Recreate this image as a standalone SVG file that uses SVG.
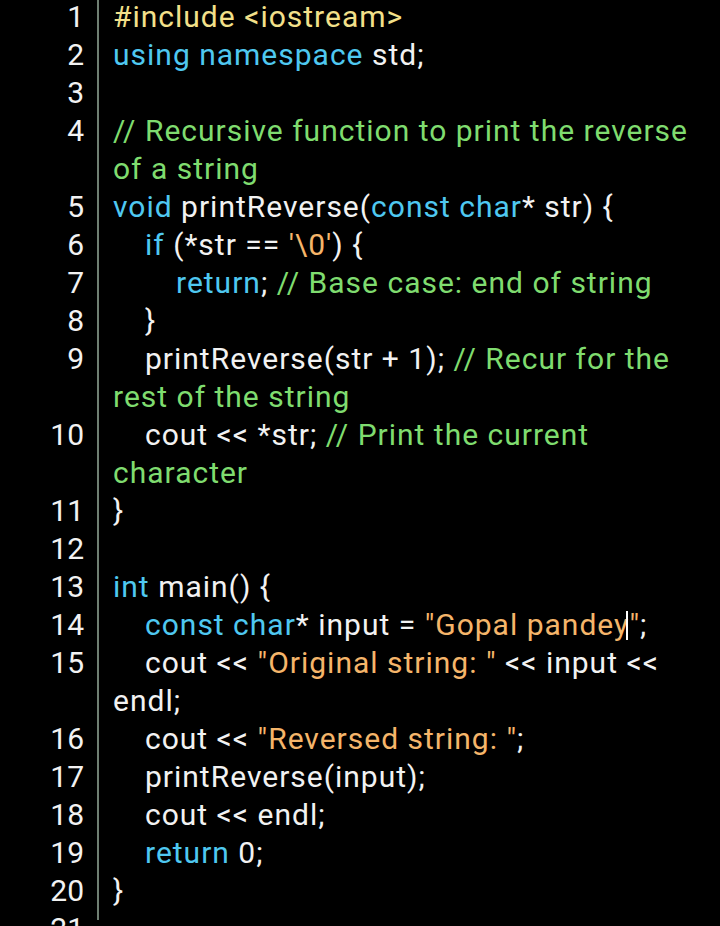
<svg xmlns="http://www.w3.org/2000/svg" width="720" height="926" viewBox="0 0 720 926">
<style>
text{font-family:Roboto,"Noto Sans",sans-serif;font-size:30px;letter-spacing:1px;fill:#f2f2f2;white-space:pre}
.n{text-anchor:end;letter-spacing:0}
.k{fill:#4fc8f0}.c{fill:#7fdc6f}.s{fill:#f5b56a}.p{fill:#f3e08a}
</style>
<rect width="720" height="926" fill="#000"/>
<line x1="98" y1="0" x2="98" y2="920" stroke="#6f7f72" stroke-width="2"/>
<g id="nums">
<text class="n" x="84" y="27">1</text><text class="n" x="84" y="65">2</text><text class="n" x="84" y="103">3</text><text class="n" x="84" y="141">4</text>
<text class="n" x="84" y="217">5</text><text class="n" x="84" y="255">6</text><text class="n" x="84" y="293">7</text><text class="n" x="84" y="331">8</text><text class="n" x="84" y="369">9</text>
<text class="n" x="84" y="445">10</text><text class="n" x="84" y="521">11</text><text class="n" x="84" y="559">12</text><text class="n" x="84" y="597">13</text><text class="n" x="84" y="635">14</text><text class="n" x="84" y="673">15</text>
<text class="n" x="84" y="749">16</text><text class="n" x="84" y="787">17</text><text class="n" x="84" y="825">18</text><text class="n" x="84" y="863">19</text><text class="n" x="84" y="901">20</text><text class="n" x="84" y="939">21</text>
</g>
<g id="code">
<text x="113" y="27"><tspan class="p">#include &lt;iostream&gt;</tspan></text>
<text x="113" y="65"><tspan class="k">using namespace</tspan> std;</text>
<text x="113" y="141" class="c">// Recursive function to print the reverse</text>
<text x="113" y="179" class="c">of a string</text>
<text x="113" y="217"><tspan class="k">void</tspan> printReverse(<tspan class="k">const char</tspan>* str) {</text>
<text x="145" y="255"><tspan class="k">if</tspan> (*str == <tspan class="s">'\0'</tspan>) {</text>
<text x="176" y="293"><tspan class="k">return</tspan>; <tspan class="c">// Base case: end of string</tspan></text>
<text x="145" y="331">}</text>
<text x="145" y="369">printReverse(str + 1); <tspan class="c">// Recur for the</tspan></text>
<text x="113" y="407" class="c">rest of the string</text>
<text x="145" y="445">cout &lt;&lt; *str; <tspan class="c">// Print the current</tspan></text>
<text x="113" y="483" class="c">character</text>
<text x="113" y="521">}</text>
<text x="113" y="597"><tspan class="k">int</tspan> main() {</text>
<text x="145" y="635"><tspan class="k">const char</tspan>* input = <tspan class="s">"Gopal pandey"</tspan>;</text>
<line x1="627" y1="611" x2="627" y2="640" stroke="#fff" stroke-width="2"/>
<text x="145" y="673">cout &lt;&lt; <tspan class="s">"Original string: "</tspan> &lt;&lt; input &lt;&lt;</text>
<text x="113" y="711">endl;</text>
<text x="145" y="749">cout &lt;&lt; <tspan class="s">"Reversed string: "</tspan>;</text>
<text x="145" y="787">printReverse(input);</text>
<text x="145" y="825">cout &lt;&lt; endl;</text>
<text x="145" y="863"><tspan class="k">return</tspan> 0;</text>
<text x="113" y="901">}</text>
</g>
</svg>
